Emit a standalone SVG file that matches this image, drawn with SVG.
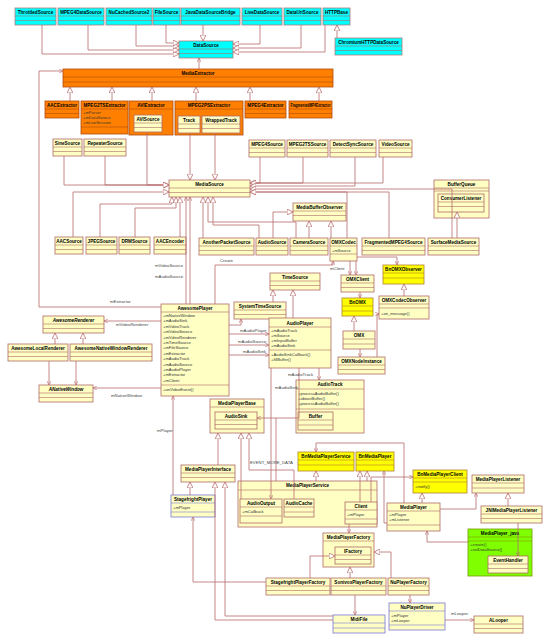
<svg xmlns="http://www.w3.org/2000/svg" width="550" height="642" viewBox="0 0 550 642">
<defs>
<style>
.c{fill:#00ffff;stroke:#b07a7a;stroke-width:.8}
.o{fill:#ff8000;stroke:#b04a10;stroke-width:.8}
.y{fill:#ffffc4;stroke:#b06a6a;stroke-width:.8}
.b{fill:#ffff00;stroke:#b08030;stroke-width:.8}
.g{fill:#80ff00;stroke:#7a9a00;stroke-width:.8}
.u{fill:#ffffc4;stroke:#7878d8;stroke-width:.8}
.ky{fill:none;stroke:#b06a6a;stroke-width:.6}
.ko{fill:none;stroke:#b04a10;stroke-width:.6}
.kb{fill:none;stroke:#b08030;stroke-width:.6}
.kg{fill:none;stroke:#7a9a00;stroke-width:.6}
.ku{fill:none;stroke:#7878d8;stroke-width:.6}
.n{font-family:'Liberation Sans',Arial,sans-serif;font-weight:bold;font-size:4.6px;text-anchor:middle;fill:#000}
.i{font-style:italic}
.a{font-family:'Liberation Sans',Arial,sans-serif;font-size:4.1px;fill:#333}
.lb{font-family:'Liberation Sans',Arial,sans-serif;font-size:4.3px;fill:#444}
.e path{fill:none;stroke:#b86b6b;stroke-width:.8}
.e .t{marker-end:url(#tri)}
.e .r{marker-end:url(#arr)}
</style>
<marker id="tri" viewBox="0 0 10 10" refX="10" refY="5" markerWidth="6" markerHeight="6" markerUnits="userSpaceOnUse" orient="auto"><path d="M0,0 L10,5 L0,10 Z" fill="#fff" stroke="#b86b6b" stroke-width="1.3"/></marker>
<marker id="arr" viewBox="0 0 10 10" refX="10" refY="5" markerWidth="4" markerHeight="4" markerUnits="userSpaceOnUse" orient="auto"><path d="M0,0 L10,5 L0,10" fill="none" stroke="#b86b6b" stroke-width="1.6"/></marker>
</defs>
<rect width="550" height="642" fill="#fff"/>

<!-- cyan data sources -->
<g id="ThrottledSource"><rect class="c" x="15" y="8" width="41" height="17"/><path class="ky" d="M15 16h41M15 20.5h41"/><text class="n" x="35.5" y="14">ThrottledSource</text></g>
<g id="MPEG4DataSource"><rect class="c" x="58" y="8" width="46" height="17"/><path class="ky" d="M58 16h46M58 20.5h46"/><text class="n" x="81" y="14">MPEG4DataSource</text></g>
<g id="NuCachedSource2"><rect class="c" x="106" y="8" width="46" height="17"/><path class="ky" d="M106 16h46M106 20.5h46"/><text class="n" x="129" y="14">NuCachedSource2</text></g>
<g id="FileSource"><rect class="c" x="153" y="8" width="27" height="17"/><path class="ky" d="M153 16h27M153 20.5h27"/><text class="n" x="166.5" y="14">FileSource</text></g>
<g id="JavaDataSourceBridge"><rect class="c" x="181" y="8" width="59" height="17"/><path class="ky" d="M181 16h59M181 20.5h59"/><text class="n" x="210.5" y="14">JavaDataSourceBridge</text></g>
<g id="LiveDataSource"><rect class="c" x="242" y="8" width="40" height="17"/><path class="ky" d="M242 16h40M242 20.5h40"/><text class="n" x="262" y="14">LiveDataSource</text></g>
<g id="DataUriSource"><rect class="c" x="284" y="8" width="37" height="17"/><path class="ky" d="M284 16h37M284 20.5h37"/><text class="n" x="302.5" y="14">DataUriSource</text></g>
<g id="HTTPBase"><rect class="c" x="323" y="8" width="27" height="17"/><path class="ky" d="M323 16h27M323 20.5h27"/><text class="n" x="336.5" y="14">HTTPBase</text></g>
<g id="ChromiumHTTPDataSource"><rect class="c" x="335" y="38" width="67" height="17"/><path class="ky" d="M335 46h67M335 50.5h67"/><text class="n" x="368.5" y="44">ChromiumHTTPDataSource</text></g>
<g id="DataSource"><rect class="c" x="179" y="41" width="54" height="17"/><path class="ky" d="M179 49h54M179 53.5h54"/><text class="n" x="206" y="47">DataSource</text></g>

<!-- extractors -->
<g id="MediaExtractor"><rect class="o" x="63" y="69" width="270" height="18"/><path class="ko" d="M63 77h270M63 82h270"/><text class="n" x="198" y="75">MediaExtractor</text></g>
<g id="AACExtractor"><rect class="o" x="45" y="101" width="34" height="17"/><path class="ko" d="M45 109h34M45 113.5h34"/><text class="n" x="62" y="107">AACExtractor</text></g>
<g id="MPEG2TSExtractor"><rect class="o" x="81" y="101" width="47" height="33"/><path class="ko" d="M81 109h47M81 127h47"/><text class="n" x="104.5" y="107">MPEG2TSExtractor</text><text class="a" x="83" y="114">+mParser</text><text class="a" x="83" y="119">+mDataSource</text><text class="a" x="83" y="124">+mLiveSession</text></g>
<g id="AVIExtractor"><rect class="o" x="129" y="101" width="44" height="34"/><path class="ko" d="M129 109h44"/><text class="n" x="151" y="107">AVIExtractor</text>
<g id="AVISource"><rect class="y" x="134" y="115" width="28" height="17"/><path class="ky" d="M134 123h28M134 127.5h28"/><text class="n" x="148" y="121">AVISource</text></g></g>
<g id="MPEG2PSExtractor"><rect class="o" x="175" y="101" width="68" height="34"/><path class="ko" d="M175 109h68"/><text class="n" x="209" y="107">MPEG2PSExtractor</text>
<g id="Track"><rect class="y" x="178" y="116" width="22" height="17"/><path class="ky" d="M178 124h22M178 128.5h22"/><text class="n" x="189" y="122">Track</text></g>
<g id="WrappedTrack"><rect class="y" x="202" y="116" width="38" height="17"/><path class="ky" d="M202 124h38M202 128.5h38"/><text class="n" x="221" y="122">WrappedTrack</text></g></g>
<g id="MPEG4Extractor"><rect class="o" x="245" y="101" width="41" height="17"/><path class="ko" d="M245 109h41M245 113.5h41"/><text class="n" x="265.5" y="107">MPEG4Extractor</text></g>
<g id="FragmentedMP4Extractor"><rect class="o" x="289" y="101" width="43" height="17"/><path class="ko" d="M289 109h43M289 113.5h43"/><text class="n" x="310.5" y="107" textLength="40" lengthAdjust="spacingAndGlyphs">FragmentedMP4Extractor</text></g>

<!-- sources -->
<g id="SineSource"><rect class="y" x="53" y="139" width="29" height="17"/><path class="ky" d="M53 147h29M53 151.5h29"/><text class="n" x="67.5" y="145">SineSource</text></g>
<g id="RepeaterSource"><rect class="y" x="84" y="139" width="42" height="17"/><path class="ky" d="M84 147h42M84 151.5h42"/><text class="n" x="105" y="145">RepeaterSource</text></g>
<g id="MPEG4Source"><rect class="y" x="249" y="140" width="36" height="17"/><path class="ky" d="M249 148h36M249 152.5h36"/><text class="n" x="267" y="146">MPEG4Source</text></g>
<g id="MPEG2TSSource"><rect class="y" x="287" y="140" width="41" height="17"/><path class="ky" d="M287 148h41M287 152.5h41"/><text class="n" x="307.5" y="146">MPEG2TSSource</text></g>
<g id="DetectSyncSource"><rect class="y" x="330" y="140" width="46" height="17"/><path class="ky" d="M330 148h46M330 152.5h46"/><text class="n" x="353" y="146">DetectSyncSource</text></g>
<g id="VideoSource"><rect class="y" x="379" y="140" width="33" height="17"/><path class="ky" d="M379 148h33M379 152.5h33"/><text class="n" x="395.5" y="146">VideoSource</text></g>
<g id="MediaSource"><rect class="y" x="169" y="180" width="81" height="17"/><path class="ky" d="M169 188h81M169 192.5h81"/><text class="n" x="209.5" y="186">MediaSource</text></g>
<g id="BufferQueue"><rect class="y" x="434" y="180" width="55" height="38"/><path class="ky" d="M434 188h55M434 191h55"/><text class="n" x="461.5" y="186">BufferQueue</text>
<g id="ConsumerListener"><rect class="y" x="438" y="194" width="46" height="18"/><path class="ky" d="M438 202h46M438 206.5h46"/><text class="n" x="461" y="200">ConsumerListener</text></g></g>
<g id="MediaBufferObserver"><rect class="y" x="293" y="203" width="53" height="18"/><path class="ky" d="M293 211h53M293 215.5h53"/><text class="n" x="319.5" y="209">MediaBufferObserver</text></g>
<g id="AACSource"><rect class="y" x="55" y="237" width="28" height="17"/><path class="ky" d="M55 245h28M55 249.5h28"/><text class="n" x="69" y="243">AACSource</text></g>
<g id="JPEGSource"><rect class="y" x="86" y="237" width="31" height="17"/><path class="ky" d="M86 245h31M86 249.5h31"/><text class="n" x="101.5" y="243">JPEGSource</text></g>
<g id="DRMSource"><rect class="y" x="119" y="237" width="31" height="17"/><path class="ky" d="M119 245h31M119 249.5h31"/><text class="n" x="134.5" y="243">DRMSource</text></g>
<g id="AACEncoder"><rect class="y" x="154" y="237" width="32" height="17"/><path class="ky" d="M154 245h32M154 249.5h32"/><text class="n" x="170" y="243">AACEncoder</text></g>
<g id="AnotherPacketSource"><rect class="y" x="199" y="238" width="55" height="17"/><path class="ky" d="M199 246h55M199 250.5h55"/><text class="n" x="226.5" y="244">AnotherPacketSource</text></g>
<g id="AudioSource"><rect class="y" x="256" y="238" width="32" height="17"/><path class="ky" d="M256 246h32M256 250.5h32"/><text class="n" x="272" y="244">AudioSource</text></g>
<g id="CameraSource"><rect class="y" x="290" y="238" width="38" height="17"/><path class="ky" d="M290 246h38M290 250.5h38"/><text class="n" x="309" y="244">CameraSource</text></g>
<g id="OMXCodec"><rect class="y" x="330" y="238" width="27" height="23"/><path class="ky" d="M330 246h27M330 254h27"/><text class="n" x="343.5" y="244">OMXCodec</text><text class="a" x="332" y="251.5">+mSource</text></g>
<g id="FragmentedMPEG4Source"><rect class="y" x="362" y="238" width="63" height="17"/><path class="ky" d="M362 246h63M362 250.5h63"/><text class="n" x="393.5" y="244">FragmentedMPEG4Source</text></g>
<g id="SurfaceMediaSource"><rect class="y" x="428" y="238" width="51" height="17"/><path class="ky" d="M428 246h51M428 250.5h51"/><text class="n" x="453.5" y="244">SurfaceMediaSource</text></g>

<!-- OMX -->
<g id="BnOMXObserver"><rect class="b" x="383" y="265" width="41" height="19"/><path class="kb" d="M383 273h41M383 278h41"/><text class="n" x="403.5" y="271">BnOMXObserver</text></g>
<g id="OMXClient"><rect class="y" x="341" y="275" width="33" height="17"/><path class="ky" d="M341 283h33M341 287.5h33"/><text class="n" x="357.5" y="281">OMXClient</text></g>
<g id="BnOMX"><rect class="b" x="342" y="298" width="31" height="18"/><path class="kb" d="M342 306h31M342 311h31"/><text class="n" x="357.5" y="304">BnOMX</text></g>
<g id="OMXCodecObserver"><rect class="y" x="379" y="296" width="50" height="23"/><path class="ky" d="M379 304h50M379 308h50"/><text class="n" x="404" y="302">OMXCodecObserver</text><text class="a" x="381" y="314.5">+on_message()</text></g>
<g id="OMX"><rect class="y" x="343" y="331" width="32" height="18"/><path class="ky" d="M343 339h32M343 344h32"/><text class="n" x="359" y="337">OMX</text></g>
<g id="OMXNodeInstance"><rect class="y" x="338" y="357" width="47" height="17"/><path class="ky" d="M338 365h47M338 369.5h47"/><text class="n" x="361.5" y="363">OMXNodeInstance</text></g>

<!-- time -->
<g id="TimeSource"><rect class="y" x="270" y="273" width="50" height="17"/><path class="ky" d="M270 281h50M270 285.5h50"/><text class="n" x="295" y="279">TimeSource</text></g>
<g id="SystemTimeSource"><rect class="y" x="234" y="302" width="52" height="17"/><path class="ky" d="M234 310h52M234 314.5h52"/><text class="n" x="260" y="308">SystemTimeSource</text></g>

<!-- AwesomePlayer -->
<g id="AwesomePlayer"><rect class="y" x="161" y="304" width="68" height="92"/><path class="ky" d="M161 312h68M161 385h68"/><text class="n" x="195" y="310">AwesomePlayer</text>
<text class="a" x="163" y="317">+mNativeWindow</text><text class="a" x="163" y="322.4">+mAudioSink</text><text class="a" x="163" y="327.8">+mVideoTrack</text><text class="a" x="163" y="333.2">+mVideoSource</text><text class="a" x="163" y="338.6">+mVideoRenderer</text><text class="a" x="163" y="344">+mTimeSource</text><text class="a" x="163" y="349.4">+mFileSource</text><text class="a" x="163" y="354.8">+mExtractor</text><text class="a" x="163" y="360.2">+mAudioTrack</text><text class="a" x="163" y="365.6">+mAudioSource</text><text class="a" x="163" y="371">+mAudioPlayer</text><text class="a" x="163" y="376.4">+mExtractor</text><text class="a" x="163" y="381.8">+mClient</text><text class="a" x="163" y="391">+onVideoEvent()</text></g>
<g id="AwesomeRenderer"><rect class="y" x="43" y="316" width="61" height="17"/><path class="ky" d="M43 324h61M43 328.5h61"/><text class="n i" x="73.5" y="322">AwesomeRenderer</text></g>
<g id="AwesomeLocalRenderer"><rect class="y" x="8" y="344" width="60" height="17"/><path class="ky" d="M8 352h60M8 356.5h60"/><text class="n" x="38" y="350">AwesomeLocalRenderer</text></g>
<g id="AwesomeNativeWindowRenderer"><rect class="y" x="70" y="344" width="82" height="17"/><path class="ky" d="M70 352h82M70 356.5h82"/><text class="n" x="111" y="350">AwesomeNativeWindowRenderer</text></g>
<g id="ANativeWindow"><rect class="y" x="39" y="385" width="54" height="17"/><path class="ky" d="M39 393h54M39 397.5h54"/><text class="n i" x="66" y="391">ANativeWindow</text></g>

<!-- audio -->
<g id="AudioPlayer"><rect class="y" x="269" y="318" width="62" height="50"/><path class="ky" d="M269 327h62M269 350h62"/><text class="n" x="300" y="325">AudioPlayer</text><text class="a" x="271" y="332">+mAudioTrack</text><text class="a" x="271" y="337">+mSource</text><text class="a" x="271" y="342">+mInputBuffer</text><text class="a" x="271" y="347">+mAudioSink</text><text class="a" x="271" y="356">+AudioSinkCallback()</text><text class="a" x="271" y="361">+fillBuffer()</text></g>
<g id="AudioTrack"><rect class="y" x="296" y="380" width="68" height="53"/><path class="ky" d="M296 389h68M296 409h68"/><text class="n" x="330" y="386">AudioTrack</text><text class="a" x="298" y="395">+processAudioBuffer()</text><text class="a" x="298" y="400">+obtainBuffer()</text><text class="a" x="298" y="405">+processAudioBuffer()</text>
<g id="Buffer"><rect class="y" x="298" y="412" width="35" height="18"/><path class="ky" d="M298 420h35M298 425h35"/><text class="n" x="315.5" y="418">Buffer</text></g></g>
<g id="MediaPlayerBase"><rect class="y" x="210" y="399" width="54" height="34"/><path class="ky" d="M210 407h54"/><text class="n" x="237" y="405">MediaPlayerBase</text>
<g id="AudioSink"><rect class="y" x="215" y="412" width="42" height="17"/><path class="ky" d="M215 420h42M215 424.5h42"/><text class="n" x="236" y="418">AudioSink</text></g></g>
<g id="MediaPlayerInterface"><rect class="y" x="181" y="465" width="54" height="17"/><path class="ky" d="M181 473h54M181 477.5h54"/><text class="n" x="208" y="471">MediaPlayerInterface</text></g>
<g id="StagefrightPlayer"><rect class="u" x="171" y="495" width="44" height="22"/><path class="ku" d="M171 503h44M171 512h44"/><text class="n" x="193" y="501">StagefrightPlayer</text><text class="a" x="173" y="508.5">+mPlayer</text></g>

<!-- media player service -->
<g id="BnMediaPlayerService"><rect class="b" x="298" y="452" width="56" height="19"/><path class="kb" d="M298 460h56M298 465h56"/><text class="n" x="326" y="458">BnMediaPlayerService</text></g>
<g id="BnMediaPlayer"><rect class="b" x="356" y="452" width="38" height="19"/><path class="kb" d="M356 460h38M356 465h38"/><text class="n" x="375" y="458">BnMediaPlayer</text></g>
<g id="MediaPlayerService"><rect class="y" x="238" y="481" width="139" height="46"/><path class="ky" d="M238 490h139"/><text class="n" x="307.5" y="487">MediaPlayerService</text>
<g id="AudioOutput"><rect class="y" x="240" y="499" width="42" height="24"/><path class="ky" d="M240 507h42M240 516h42"/><text class="n" x="261" y="505">AudioOutput</text><text class="a" x="242" y="512.5">+mCallback</text></g>
<g id="AudioCache"><rect class="y" x="284" y="499" width="30" height="18"/><path class="ky" d="M284 507h30M284 512h30"/><text class="n" x="299" y="505">AudioCache</text></g>
<g id="Client"><rect class="y" x="345" y="502" width="32" height="22"/><path class="ky" d="M345 510h32M345 519h32"/><text class="n" x="361" y="508">Client</text><text class="a" x="347" y="515.5">+mPlayer</text></g></g>
<g id="BnMediaPlayerClient"><rect class="b" x="413" y="470" width="54" height="23"/><path class="kb" d="M413 478h54M413 482h54"/><text class="n" x="440" y="476">BnMediaPlayerClient</text><text class="a" x="415" y="488">+notify()</text></g>
<g id="MediaPlayerListener"><rect class="y" x="472" y="475" width="52" height="18"/><path class="ky" d="M472 483h52M472 488h52"/><text class="n" x="498" y="481">MediaPlayerListener</text></g>
<g id="JNIMediaPlayerListener"><rect class="y" x="481" y="506" width="61" height="17"/><path class="ky" d="M481 514h61M481 518.5h61"/><text class="n" x="511.5" y="512">JNIMediaPlayerListener</text></g>
<g id="MediaPlayer"><rect class="y" x="387" y="503" width="53" height="28"/><path class="ky" d="M387 511h53M387 525h53"/><text class="n" x="413.5" y="509">MediaPlayer</text><text class="a" x="389" y="516">+mPlayer</text><text class="a" x="389" y="521">+mListener</text></g>
<g id="MediaPlayer_java"><rect class="g" x="468" y="529" width="64" height="47"/><path class="kg" d="M468 537h64M468 541h64"/><text class="n" x="500" y="535">MediaPlayer_java</text><text class="a" x="470" y="546">+create()</text><text class="a" x="470" y="551">+setDataSource()</text>
<g id="EventHandler"><rect class="y" x="488" y="556" width="40" height="17"/><path class="ky" d="M488 564h40M488 568.5h40"/><text class="n" x="508" y="562">EventHandler</text></g></g>
<g id="MediaPlayerFactory"><rect class="y" x="323" y="533" width="51" height="34"/><path class="ky" d="M323 541h51"/><text class="n" x="348.5" y="539">MediaPlayerFactory</text>
<g id="IFactory"><rect class="y" x="335" y="547" width="36" height="17"/><path class="ky" d="M335 555h36M335 559.5h36"/><text class="n" x="353" y="553">IFactory</text></g></g>
<g id="StagefrightPlayerFactory"><rect class="y" x="266" y="578" width="64" height="17"/><path class="ky" d="M266 586h64M266 590.5h64"/><text class="n" x="298" y="584">StagefrightPlayerFactory</text></g>
<g id="SonivoxPlayerFactory"><rect class="y" x="331" y="578" width="55" height="17"/><path class="ky" d="M331 586h55M331 590.5h55"/><text class="n" x="358.5" y="584">SonivoxPlayerFactory</text></g>
<g id="NuPlayerFactory"><rect class="y" x="388" y="578" width="41" height="17"/><path class="ky" d="M388 586h41M388 590.5h41"/><text class="n" x="408.5" y="584">NuPlayerFactory</text></g>
<g id="NuPlayerDriver"><rect class="u" x="389" y="603" width="56" height="27"/><path class="ku" d="M389 611h56M389 625h56"/><text class="n" x="417" y="609">NuPlayerDriver</text><text class="a" x="391" y="616.5">+mPlayer</text><text class="a" x="391" y="621.5">+mLooper</text></g>
<g id="MidiFile"><rect class="u" x="333" y="615" width="52" height="18"/><path class="ku" d="M333 623h52M333 628h52"/><text class="n" x="359" y="621">MidiFile</text></g>
<g id="ALooper"><rect class="y" x="474" y="616" width="49" height="17"/><path class="ky" d="M474 624h49M474 628.5h49"/><text class="n" x="498.5" y="622">ALooper</text></g>

<!-- connectors -->
<g id="connectors" class="e">
<path class="t" d="M42 25V54H179"/>
<path class="t" d="M88 25V50H179"/>
<path class="t" d="M136 25V46H179"/>
<path class="t" d="M166 25V43H179"/>
<path class="t" d="M203 25V41"/>
<path class="t" d="M260 25V44H233"/>
<path class="t" d="M301 25V48H233"/>
<path class="t" d="M325 25V52H233"/>
<path class="t" d="M337 38V25"/>
<path class="r" d="M199 69V58"/>
<path class="t" d="M70 101V87"/>
<path class="t" d="M112 101V87"/>
<path class="t" d="M152 101V87"/>
<path class="t" d="M196 101V87"/>
<path class="t" d="M250 101V87"/>
<path class="t" d="M319 101V87"/>
<path class="r" d="M161 307H39V71H63"/>
<path class="t" d="M64 156V185H169"/>
<path class="t" d="M105 156V185H169"/>
<path class="t" d="M147 132V185H169"/>
<path class="t" d="M190 133V180"/>
<path class="t" d="M215 133V180"/>
<path class="t" d="M73 237V192H169"/>
<path class="t" d="M100 237V204H172V197"/>
<path class="t" d="M135 237V208H176V197"/>
<path class="t" d="M180 237V197"/>
<path class="t" d="M203 238V197"/>
<path class="t" d="M259 238V225H213V197"/>
<path class="t" d="M296 238V222H208V197"/>
<path class="t" d="M260 157V183H250"/>
<path class="t" d="M383 157V183H250"/>
<path class="t" d="M303 157V183H250"/>
<path class="t" d="M355 157V186H250"/>
<path class="t" d="M452 238V189H250"/>
<path class="t" d="M347 238V192H250"/>
<path class="t" d="M389 238V192H250"/>
<path class="t" d="M457 238V212"/>
<path class="t" d="M273 238V212H293"/>
<path class="t" d="M309 238V221"/>
<path class="t" d="M331 238V221"/>
<path class="r" d="M186 304V197"/>
<path class="r" d="M190 304V197"/>
<path class="r" d="M215 304V265H333V261"/>
<path class="r" d="M350 261V275"/>
<path class="r" d="M356 261V275"/>
<path class="r" d="M360 292V298"/>
<path class="t" d="M354 331V316"/>
<path class="r" d="M360 349V357"/>
<path class="r" d="M377 357V314H379"/>
<path class="t" d="M404 296V284"/>
<path class="r" d="M357 257H397V265"/>
<path class="t" d="M273 302V290"/>
<path class="t" d="M293 318V290"/>
<path class="r" d="M229 325H241V319"/>
<path class="r" d="M161 321H104"/>
<path class="t" d="M55 344V333"/>
<path class="t" d="M83 344V333"/>
<path class="r" d="M49 361V385"/>
<path class="r" d="M76 361V385"/>
<path class="r" d="M161 388H93"/>
<path class="r" d="M229 334H269"/>
<path class="r" d="M229 345H269"/>
<path class="r" d="M229 355H269"/>
<path class="r" d="M319 368V380"/>
<path class="r" d="M299 368V418H257"/>
<path class="r" d="M271 368V499"/>
<path d="M276 418V481"/>
<path class="t" d="M241 499V433"/>
<path class="t" d="M294 499V470H249V433"/>
<path class="t" d="M218 465V433"/>
<path class="r" d="M173 495V396"/>
<path class="t" d="M190 495V482"/>
<path class="t" d="M333 620H215V482"/>
<path class="t" d="M333 616H225V482"/>
<path class="r" d="M266 582H193V517"/>
<path class="t" d="M310 578V556H335"/>
<path class="t" d="M350 578V567"/>
<path class="t" d="M391 578V552H374"/>
<path class="r" d="M355 595V615"/>
<path class="r" d="M410 595V603"/>
<path class="r" d="M445 620H474"/>
<path class="r" d="M349 524V533"/>
<path class="t" d="M316 481V471"/>
<path class="t" d="M360 502V471"/>
<path class="t" d="M367 481V471"/>
<path class="r" d="M404 503V443H316V452"/>
<path class="r" d="M387 523H384V471"/>
<path class="r" d="M371 502V477H413"/>
<path class="t" d="M422 503V493"/>
<path class="r" d="M440 509H476V493"/>
<path class="t" d="M508 506V493"/>
<path class="r" d="M518 523V556"/>
<path class="r" d="M468 542H427V531"/>
</g>

<!-- connector labels -->
<g id="labels">
<text class="lb" x="110" y="303">mExtractor</text>
<text class="lb" x="155" y="267">mVideoSource</text>
<text class="lb" x="155" y="278">mAudioSource</text>
<text class="lb" x="220" y="262">Create</text>
<text class="lb" x="330" y="270">mClient</text>
<text class="lb" x="116" y="326">mVideoRenderer</text>
<text class="lb" x="111" y="397">mNativeWindow</text>
<text class="lb" x="157" y="432">mPlayer</text>
<text class="lb" x="240" y="332">mAudioPlayer</text>
<text class="lb" x="238" y="343">mAudioSource</text>
<text class="lb" x="243" y="353">mAudioSink</text>
<text class="lb" x="288" y="376">mAudioTrack</text>
<text class="lb" x="275" y="389">mAudioSink</text>
<text class="lb" x="250" y="464">EVENT_MORE_DATA</text>
<text class="lb" x="451" y="615">mLooper</text>
</g>
</svg>
